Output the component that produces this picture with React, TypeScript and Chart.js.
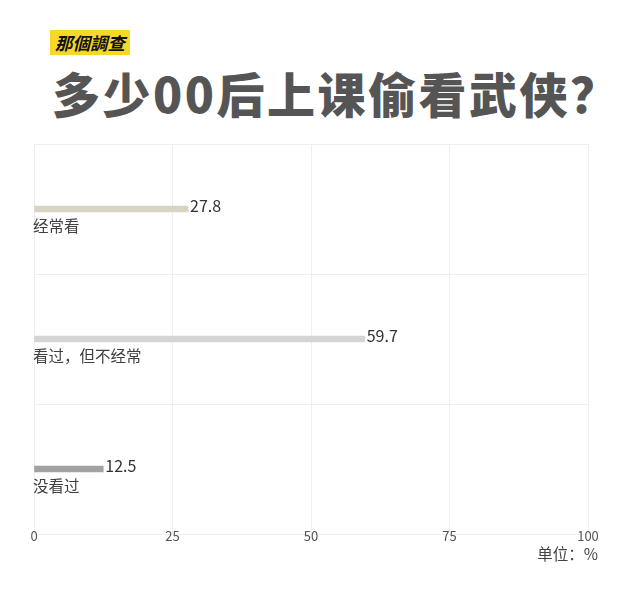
import React, { useEffect, useRef } from "react";
import { Chart, registerables } from "chart.js";

Chart.register(...registerables);

const categories = ["经常看", "看过，但不经常", "没看过"];
const values = [27.8, 59.7, 12.5];
const barColors = ["#d7d4c4", "#d4d6d6", "#a2a2a2"];
const xTicks = [0, 25, 50, 75, 100];
const titleText = "多少00后上课偷看武侠？";
const badgeText = "那個調查";
const unitText = "单位：%";

const FONT = '"Noto Sans CJK SC", "Noto Sans", sans-serif';

const labelPlugin = {
  id: "barLabels",
  afterDatasetsDraw(chart: any) {
    const ctx = chart.ctx;
    const meta = chart.getDatasetMeta(0);
    const xScale = chart.scales.x;
    const area = chart.chartArea;
    ctx.save();
    meta.data.forEach((bar: any, i: number) => {
      const left = xScale.getPixelForValue(0);
      ctx.font = `16px ${FONT}`;
      ctx.fillStyle = "#333333";
      ctx.textAlign = "left";
      ctx.textBaseline = "middle";
      ctx.fillText(String(values[i]), bar.x + 2, bar.y - 3);
      ctx.font = `15.5px ${FONT}`;
      ctx.fillStyle = "#404040";
      ctx.fillText(categories[i], left - 1, bar.y + 17);
    });
    ctx.font = `13px ${FONT}`;
    ctx.fillStyle = "#555555";
    ctx.textAlign = "center";
    ctx.textBaseline = "middle";
    xTicks.forEach((v) => {
      ctx.fillText(String(v), xScale.getPixelForValue(v), area.bottom + 2);
    });
    ctx.restore();
  },
};

export default function App() {
  const ref = useRef<HTMLCanvasElement | null>(null);
  useEffect(() => {
    if (!ref.current) return;
    const chart = new Chart(ref.current, {
      type: "bar",
      data: {
        labels: categories,
        datasets: [
          {
            data: values,
            backgroundColor: barColors,
            barThickness: 6,
            borderWidth: 0,
          },
        ],
      },
      options: {
        indexAxis: "y",
        responsive: false,
        animation: false,
        maintainAspectRatio: false,
        layout: { padding: { left: 34, right: 52, top: 14, bottom: 26 } },
        plugins: { legend: { display: false }, tooltip: { enabled: false } },
        scales: {
          x: {
            type: "linear",
            min: 0,
            max: 100,
            afterBuildTicks: (scale: any) => {
              scale.ticks = xTicks.map((v) => ({ value: v }));
            },
            grid: { color: "#efefef", lineWidth: 1, drawTicks: false },
            border: { display: false },
            ticks: { display: false },
          },
          y: {
            type: "category",
            offset: true,
            grid: { color: "#efefef", lineWidth: 1, drawTicks: false, offset: true },
            border: { display: false },
            ticks: { display: false },
          },
        },
      },
      plugins: [labelPlugin],
    });
    return () => chart.destroy();
  }, []);

  return (
    <div style={{ position: "absolute", left: 0, top: 0, width: 640, height: 590, background: "#fff" }}>
      <div
        style={{
          position: "absolute",
          left: 50,
          top: 30,
          height: 25,
          lineHeight: "25px",
          padding: "0 5px",
          background: "#f6d927",
          color: "#111",
          fontFamily: FONT,
          fontWeight: 700,
          fontStyle: "italic",
          fontSize: 17.5,
          whiteSpace: "nowrap",
        }}
      >
        {badgeText}
      </div>
      <div
        style={{
          position: "absolute",
          left: 52,
          top: 68,
          lineHeight: "48px",
          fontSize: 48,
          fontWeight: 900,
          letterSpacing: 2.5,
          color: "#555555",
          fontFamily: FONT,
          whiteSpace: "nowrap",
        }}
      >
        {titleText}
      </div>
      <canvas
        ref={ref}
        width={640}
        height={430}
        style={{ position: "absolute", left: 0, top: 130, width: 640, height: 430 }}
      />
      <div
        style={{
          position: "absolute",
          right: 42,
          top: 543,
          fontSize: 15.5,
          lineHeight: "20px",
          color: "#444",
          fontFamily: FONT,
          whiteSpace: "nowrap",
        }}
      >
        {unitText}
      </div>
    </div>
  );
}
